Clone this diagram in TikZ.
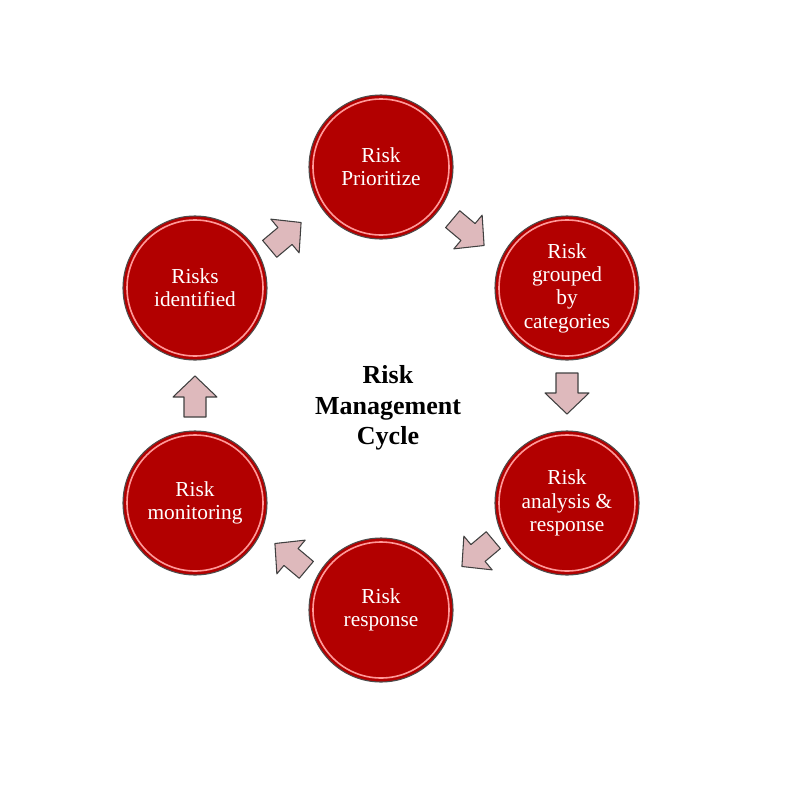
\documentclass[tikz,border=0pt]{standalone}
\usepackage{fontspec}
\setmainfont{Liberation Serif}
\begin{document}
\begin{tikzpicture}[x=0.75pt,y=-0.75pt,
  circ/.style={circle,minimum size=108pt,inner sep=0pt,draw=black!70,line width=0.8pt,fill=red!70!black,text=white,align=center,font=\fontsize{16}{17.5}\selectfont,
    path picture={\draw[red!40!white,line width=1.2pt] (path picture bounding box.center) circle (68);}},
  blk/.pic={\draw[draw=black!75,fill={rgb,255:red,222;green,185;blue,188},line width=0.8pt,line join=round]
     (-20,-11)--(0,-11)--(0,-22)--(21,0)--(0,22)--(0,11)--(-20,11)--cycle;}]
\useasboundingbox (0,0) rectangle (800,800);
\node[circ] (a) at (381,167) {Risk\\Prioritize};
\node[circ] (b) at (567,288) {Risk\\grouped\\by\\categories};
\node[circ] (c) at (567,503) {Risk\\analysis \&\\response};
\node[circ] (d) at (381,610) {Risk\\response};
\node[circ] (e) at (195,503) {Risk\\monitoring};
\node[circ] (f) at (195,288) {Risks\\identified};
\node[font=\fontsize{19.5}{23}\selectfont\bfseries,align=center] (t) at (388,408) {Risk\\Management\\Cycle};
\pic[rotate=-40] at (468,232) {blk};
\pic[rotate=-90] at (567,393) {blk};
\pic[rotate=-140] at (478,553) {blk};
\pic[rotate=140] at (291,557) {blk};
\pic[rotate=90] at (195,397) {blk};
\pic[rotate=40] at (285,236) {blk};
\end{tikzpicture}
\end{document}
